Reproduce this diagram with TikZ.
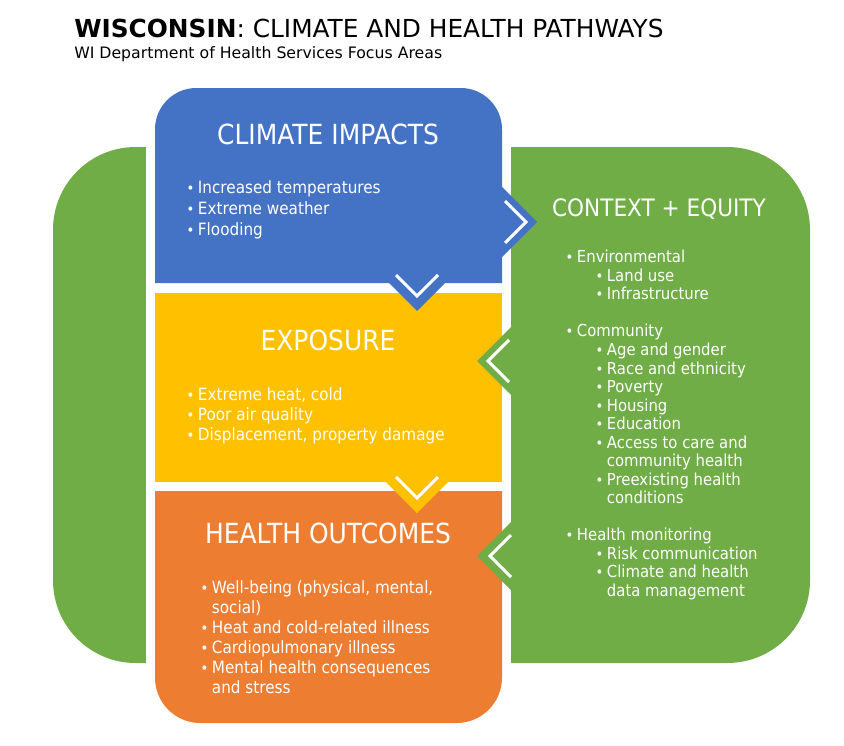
\documentclass[tikz,border=0pt]{standalone}
\usepackage{fontspec}
\setmainfont{DejaVu Sans}[FakeStretch=0.9]
\newfontfamily\titlefont{DejaVu Sans}
\usepackage{tikz}
\usetikzlibrary{positioning}

\definecolor{impactblue}{HTML}{4472C4}
\definecolor{exposureyellow}{HTML}{FFC000}
\definecolor{outcomeorange}{HTML}{ED7D31}
\definecolor{equitygreen}{HTML}{70AD47}

% bullet items: first level, second level, continued lines
\newcommand{\ia}[1]{\makebox[8pt][l]{\hspace*{-0.5pt}\fontsize{11}{11}\selectfont\textbullet}#1}
\newcommand{\ib}[1]{\hspace*{22.5pt}\ia{#1}}
\newcommand{\ic}[1]{\hspace*{8pt}#1}
\newcommand{\id}[1]{\hspace*{30.5pt}#1}

\begin{document}
\begin{tikzpicture}[x=0.75pt,y=-0.75pt,
	head/.style={text=white,font=\fontsize{20.8}{24}\selectfont,inner sep=0pt,anchor=base},
	list/.style={text=white,align=left,inner sep=0pt,anchor=north west,font=\fontsize{12.7}{15.75}\selectfont},
	vline/.style={white,line width=2.3pt}]
	\useasboundingbox (0,0) rectangle (844,746);

	% backdrop and column
	\fill[equitygreen,rounded corners=62pt] (53,147) rectangle (810,663);
	\fill[white] (146,80) rectangle (511,730);
	\fill[impactblue] (155,283) [rounded corners=31pt] -- (155,88) -- (502,88) [sharp corners] -- (502,283) -- cycle;
	\fill[exposureyellow] (155,293) rectangle (502,482);
	\fill[outcomeorange] (155,491) [rounded corners=34pt] -- (155,723) -- (502,723) [sharp corners] -- (502,491) -- cycle;

	% chevrons
	\fill[impactblue] (417,241) -- (452,276) -- (417,311) -- (382,276) -- cycle;
	\draw[vline] (396,275) -- (417,296) -- (438,275);
	\fill[exposureyellow] (417,443) -- (452,478) -- (417,513) -- (382,478) -- cycle;
	\draw[vline] (396,477) -- (417,498) -- (438,477);
	\fill[impactblue] (502,187) -- (537,222) -- (502,257) -- (467,222) -- cycle;
	\draw[vline] (505,201) -- (526,222) -- (505,243);
	\fill[equitygreen] (512,326) -- (547,361) -- (512,396) -- (477,361) -- cycle;
	\draw[vline] (509,340) -- (488,361) -- (509,382);
	\fill[equitygreen] (512,521) -- (547,556) -- (512,591) -- (477,556) -- cycle;
	\draw[vline] (511,535) -- (490,556) -- (511,577);

	% titles
	\node[anchor=base west,inner sep=0pt,font=\titlefont\fontsize{18.6}{22}\selectfont] (title) at (74,37) {\textbf{WISCONSIN}: CLIMATE AND HEALTH PATHWAYS};
	\node[anchor=base west,inner sep=0pt,font=\titlefont\fontsize{11.8}{14}\selectfont] (subtitle) at (74,58) {WI Department of Health Services Focus Areas};

	\node[head] (impacts) at (328,144) {CLIMATE IMPACTS};
	\node[head] (exposure) at (328,350) {EXPOSURE};
	\node[head] (outcomes) at (328,543) {HEALTH OUTCOMES};
	\node[head,font=\fontsize{18}{22}\selectfont] (equity) at (659,216) {CONTEXT + EQUITY};

	\node[list] (impactlist) at (187,180) {\ia{Increased temperatures}\\ \ia{Extreme weather}\\ \ia{Flooding}};
	\node[list,font=\fontsize{12.7}{15}\selectfont] (exposurelist) at (187,387) {\ia{Extreme heat, cold}\\ \ia{Poor air quality}\\ \ia{Displacement, property damage}};
	\node[list,font=\fontsize{12.7}{15}\selectfont] (outcomelist) at (201,580) {\ia{Well-being (physical, mental,}\\ \ic{social)}\\
		\ia{Heat and cold-related illness}\\ \ia{Cardiopulmonary illness}\\ \ia{Mental health consequences}\\ \ic{and stress}};
	\node[list,font=\fontsize{12.4}{13.9}\selectfont] (equitylist) at (566,250) {\ia{Environmental}\\ \ib{Land use}\\ \ib{Infrastructure}\\[13.9pt]
		\ia{Community}\\ \ib{Age and gender}\\ \ib{Race and ethnicity}\\ \ib{Poverty}\\ \ib{Housing}\\ \ib{Education}\\
		\ib{Access to care and}\\ \id{community health}\\ \ib{Preexisting health}\\ \id{conditions}\\[13.9pt]
		\ia{Health monitoring}\\ \ib{Risk communication}\\ \ib{Climate and health}\\ \id{data management}};
\end{tikzpicture}
\end{document}
